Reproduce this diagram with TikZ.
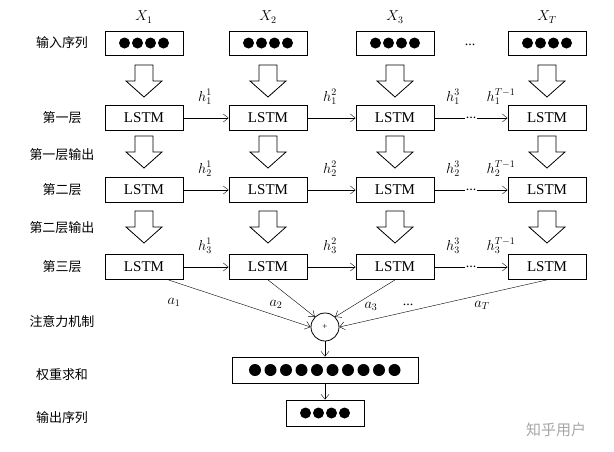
\documentclass[tikz,border=0pt]{standalone}
\usepackage{fontspec}
\setmainfont{Liberation Serif}
\newfontfamily\cjk{Noto Sans CJK SC}
\usetikzlibrary{arrows.meta}
\begin{document}
\begin{tikzpicture}[x=1pt,y=-1pt,
  box/.style={draw,thick,minimum width=78pt,minimum height=25pt,inner sep=0pt,font=\fontsize{15}{16}\selectfont},
  lab/.style={font=\cjk\fontsize{13}{14}\selectfont},
  ml/.style={font=\fontsize{14}{15}\selectfont},
  arr/.style={-{Straight Barb[length=5pt,width=8pt]}},
  pics/blk/.style={code={\draw[thick,fill=white] (-9,-16)--(9,-16)--(9,0)--(18,0)--(0,16)--(-18,0)--(-9,0)--cycle;}}]
\useasboundingbox (0,0) rectangle (614,451);
\tikzset{pics/dots4/.style={code={\foreach \k in {0,1,2,3}\fill (-19.5+13*\k,0) circle (5.5);}}}
% inputs
\foreach \i/\x/\s in {1/144/1,2/268/2,3/395/3,4/547/T}{
  \node[ml] (x\i) at (\x,17) {$X_{\s}$};
  \node[box,minimum height=24pt] (in\i) at (\x,43) {};
  \pic at (\x,43) {dots4};
  \pic at (\x,81) {blk};
  \node[box] (l1\i) at (\x,118) {LSTM};
  \pic at (\x,152) {blk};
  \node[box] (l2\i) at (\x,190) {LSTM};
  \pic at (\x,227) {blk};
  \node[box] (l3\i) at (\x,267) {LSTM};
}
\node[ml] (idots) at (470,45) {...};
% horizontal arrows
\foreach \r/\y in {1/118,2/190,3/267}{
  \draw[arr] (l\r1.east) -- (l\r2.west);
  \draw[arr] (l\r2.east) -- (l\r3.west);
  \node[ml,inner sep=1pt] (dd\r) at (471,\y) {...};
  \draw (l\r3.east) -- (dd\r.west);
  \draw[arr] (dd\r.east) -- (l\r4.west);
  \node[ml] at (205,\y-21) {$h_{\r}^{1}$};
  \node[ml] at (330,\y-21) {$h_{\r}^{2}$};
  \node[ml] at (453,\y-21) {$h_{\r}^{3}$};
  \node[ml] at (501,\y-21) {$h_{\r}^{T-1}$};
}
% attention
\node[draw,circle,thick,minimum size=28pt,inner sep=0pt,font=\small] (sum) at (325,327) {+};
\draw[arr] (l31.south east) ++(-15,0) coordinate (s1) -- (sum.west);
\draw[arr] (l32.south) -- (sum.north west);
\draw[arr] (l33.south) -- (sum.north east);
\draw[arr] (l34.south) -- (sum.east);
\node[ml] at (174,302) {$a_1$};
\node[ml] at (276,304) {$a_2$};
\node[ml] at (371,306) {$a_3$};
\node[ml] at (408,305) {...};
\node[ml] at (482,305) {$a_T$};
\node[box,minimum width=186pt,minimum height=26pt] (ws) at (325,370) {};
\foreach \k in {0,...,9}\fill (255+15.5*\k,370) circle (6);
\node[box,minimum height=26pt] (out) at (325,413) {};
\pic at (325,413) {dots4};
\draw[arr] (sum) -- (ws);
\draw[arr] (ws) -- (out);
% left labels
\foreach \t/\y in {输入序列/43,第一层/118,第一层输出/155,第二层/190,第二层输出/228,第三层/267,注意力机制/322,权重求和/375,输出序列/418}
  \node[lab] at (62,\y) {\t};
\node[font=\cjk\fontsize{15}{16}\selectfont,text=black!35] at (556,430) {知乎用户};
\end{tikzpicture}
\end{document}
